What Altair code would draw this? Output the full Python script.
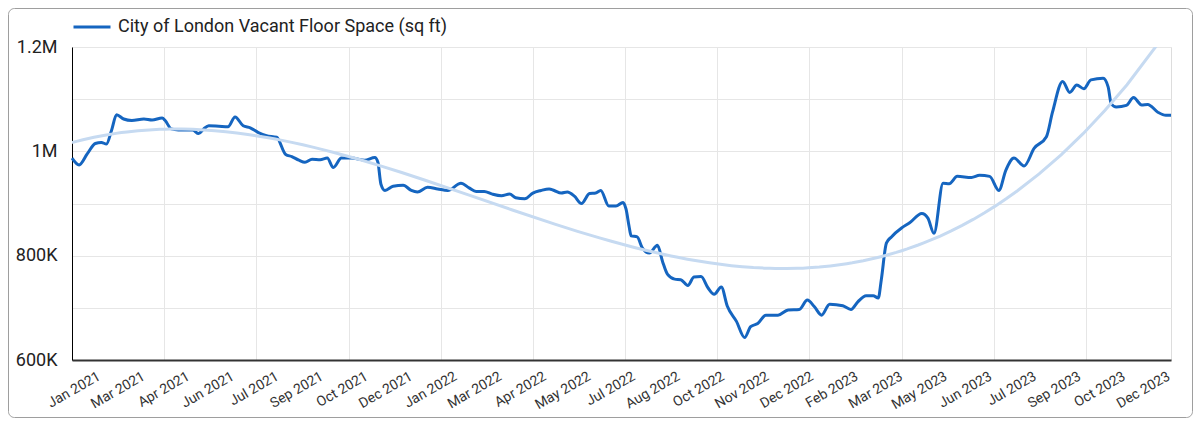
import altair as alt
import pandas as pd

SERIES = "City of London Vacant Floor Space (sq ft)"

dates = [
    "2021-01-04", "2021-01-11", "2021-01-19", "2021-01-27", "2021-02-02", "2021-02-07",
    "2021-02-12", "2021-02-17", "2021-02-24", "2021-03-04", "2021-03-16", "2021-03-24",
    "2021-04-03", "2021-04-06", "2021-04-12", "2021-04-19", "2021-05-03", "2021-05-09",
    "2021-05-14", "2021-05-19", "2021-05-29", "2021-06-07", "2021-06-14", "2021-06-22",
    "2021-06-29", "2021-07-07", "2021-07-15", "2021-07-25", "2021-08-03", "2021-08-09",
    "2021-08-16", "2021-08-22", "2021-08-29", "2021-09-06", "2021-09-13", "2021-09-19",
    "2021-09-27", "2021-10-07", "2021-10-20", "2021-10-30", "2021-11-02", "2021-11-05",
    "2021-11-09", "2021-11-17", "2021-11-27", "2021-12-05", "2021-12-11", "2021-12-21",
    "2021-12-31", "2022-01-10", "2022-01-23", "2022-01-31", "2022-02-07", "2022-02-15",
    "2022-02-23", "2022-03-04", "2022-03-12", "2022-03-18", "2022-03-27", "2022-04-04",
    "2022-04-12", "2022-04-20", "2022-04-25", "2022-05-02", "2022-05-08", "2022-05-15",
    "2022-05-22", "2022-05-30", "2022-06-05", "2022-06-10", "2022-06-18", "2022-06-25",
    "2022-07-02", "2022-07-05", "2022-07-08", "2022-07-10", "2022-07-16", "2022-07-21",
    "2022-07-28", "2022-08-05", "2022-08-10", "2022-08-15", "2022-08-22", "2022-08-28",
    "2022-09-04", "2022-09-10", "2022-09-17", "2022-09-24", "2022-09-30", "2022-10-07",
    "2022-10-13", "2022-10-22", "2022-10-30", "2022-11-05", "2022-11-12", "2022-11-20",
    "2022-12-02", "2022-12-12", "2022-12-23", "2022-12-31", "2023-01-07", "2023-01-14",
    "2023-01-22", "2023-02-04", "2023-02-12", "2023-02-19", "2023-02-27", "2023-03-06",
    "2023-03-11", "2023-03-14", "2023-03-19", "2023-03-24", "2023-04-03", "2023-04-11",
    "2023-04-23", "2023-04-29", "2023-05-05", "2023-05-14", "2023-05-20", "2023-05-28",
    "2023-06-11", "2023-06-19", "2023-06-29", "2023-07-08", "2023-07-15", "2023-07-23",
    "2023-08-02", "2023-08-12", "2023-08-24", "2023-08-30", "2023-09-09", "2023-09-16",
    "2023-09-23", "2023-09-30", "2023-10-07", "2023-10-19", "2023-10-24", "2023-10-27",
    "2023-11-01", "2023-11-11", "2023-11-18", "2023-11-26", "2023-12-02", "2023-12-12",
    "2023-12-20", "2023-12-25",
]

values = [
    987000, 974000, 995000, 1015000, 1017000, 1014000,
    1040000, 1070000, 1062000, 1059000, 1062000, 1060000,
    1064000, 1059000, 1043000, 1041000, 1041000, 1034000,
    1043000, 1049000, 1048000, 1047000, 1066000, 1049000,
    1045000, 1036000, 1030000, 1027000, 994000, 990000,
    983000, 979000, 985000, 984000, 987000, 969000,
    987000, 987000, 983000, 988000, 979000, 937000,
    925000, 933000, 935000, 925000, 922000, 931000,
    928000, 925000, 939000, 930000, 923000, 923000,
    918000, 915000, 918000, 911000, 909000, 920000,
    925000, 928000, 925000, 920000, 922000, 914000,
    900000, 919000, 920000, 925000, 895000, 895000,
    902000, 889000, 856000, 838000, 836000, 815000,
    805000, 820000, 789000, 764000, 755000, 754000,
    743000, 759000, 760000, 738000, 726000, 740000,
    703000, 674000, 643000, 664000, 670000, 686000,
    686000, 696000, 697000, 715000, 702000, 686000,
    707000, 704000, 697000, 712000, 723000, 723000,
    719000, 754000, 824000, 836000, 853000, 863000,
    881000, 872000, 843000, 939000, 938000, 952000,
    950000, 954000, 952000, 925000, 964000, 987000,
    972000, 1006000, 1028000, 1075000, 1134000, 1113000,
    1127000, 1120000, 1137000, 1140000, 1123000, 1091000,
    1085000, 1088000, 1103000, 1089000, 1090000, 1075000,
    1069000, 1069000,
]

x_labels = [
    "Jan 2021", "Mar 2021", "Apr 2021", "Jun 2021", "Jul 2021", "Sep 2021",
    "Oct 2021", "Dec 2021", "Jan 2022", "Mar 2022", "Apr 2022", "May 2022",
    "Jul 2022", "Aug 2022", "Oct 2022", "Nov 2022", "Dec 2022", "Feb 2023",
    "Mar 2023", "May 2023", "Jun 2023", "Jul 2023", "Sep 2023", "Oct 2023",
    "Dec 2023",
]

y_ticks = [600000, 700000, 800000, 900000, 1000000, 1100000, 1200000]

BLUE = "#1565c0"
TREND = "#c6daf1"
FONT = "Roboto"
DAY = 86400000
YEAR = 365 * DAY

df = pd.DataFrame({"date": dates, "value": values, "series": SERIES})

ms0 = int(pd.Timestamp(dates[0], tz="UTC").value // 10**6)
ms1 = int(pd.Timestamp(dates[-1], tz="UTC").value // 10**6)
n = len(x_labels)

# label anchors: spaced 44 days, last one just before the end of the axis
label_step = 44 * DAY
label_base = ms1 - int(2.5 * DAY) - (n - 1) * label_step
label_vals = [label_base + k * label_step for k in range(n)]
# vertical grid lines every 13 weeks from the first week
grid_vals = [ms0 + j * 91 * DAY for j in range(1, 12) if ms0 + j * 91 * DAY < ms1]

idx = f"round((datum.value - {label_base}) / {label_step})"
label_arr = "[" + ",".join(f"'{l}'" for l in x_labels) + "]"
x_label_expr = f"{label_arr}[{idx}]"

y_label_expr = (
    "datum.value % 200000 == 0 ? (datum.value >= 1000000 ? "
    "format(datum.value / 1000000, '~g') + 'M' : format(datum.value / 1000, '~g') + 'K') : ''"
)

x_scale = alt.Scale(domain=[ms0, ms1])

x_main = alt.X(
    "date:T",
    title=None,
    scale=x_scale,
    axis=alt.Axis(
        orient="bottom",
        values=label_vals,
        labelExpr=x_label_expr,
        labelAngle=-30,
        labelAlign="right",
        labelBaseline="middle",
        labelFontSize=14,
        labelFont=FONT,
        labelColor="#333333",
        labelPadding=15,
        labelFlush=False,
        labelOverlap=False,
        ticks=False,
        grid=False,
        domainColor="#333333",
        domainWidth=2,
    ),
)

y_enc = alt.Y(
    "value:Q",
    title=None,
    scale=alt.Scale(domain=[600000, 1200000], nice=False, zero=False),
    axis=alt.Axis(
        values=y_ticks,
        labelExpr=y_label_expr,
        labelFontSize=18,
        labelFont=FONT,
        labelColor="#222222",
        labelPadding=15,
        ticks=False,
        domainColor="#000000",
        domainWidth=1,
        gridColor="#e6e6e6",
        gridWidth=1,
        minExtent=64,
    ),
)

border = alt.Chart(pd.DataFrame({"b": [0]})).mark_rect(
    fillOpacity=0,
    stroke="#9e9e9e",
    strokeWidth=1,
    cornerRadius=6,
    xOffset=-63.5,
    x2Offset=21.5,
    yOffset=-38.5,
    y2Offset=57.5,
).encode(
    x=alt.value(0),
    x2=alt.value("width"),
    y=alt.value(0),
    y2=alt.value("height"),
)

main = alt.Chart(df).mark_line(
    strokeWidth=3, interpolate="monotone"
).encode(
    x=x_main,
    y=y_enc,
    color=alt.Color(
        "series:N",
        scale=alt.Scale(range=[BLUE]),
        legend=alt.Legend(
            title=None,
            orient="none",
            legendX=0,
            legendY=-40,
            symbolType="stroke",
            symbolSize=1369,
            symbolStrokeWidth=3,
            labelFontSize=18,
            labelFont=FONT,
            labelColor="#222222",
            labelOffset=6,
            labelLimit=600,
            padding=0,
        ),
    ),
)

trend = alt.Chart(df).transform_calculate(
    t=f"(time(datum.date) - {ms0}) / {YEAR}"
).transform_regression(
    "t", "value", method="poly", order=3
).transform_calculate(
    tdate=f"datum.t * {YEAR} + {ms0}"
).mark_line(
    strokeWidth=3, color=TREND, clip=True
).encode(
    x=alt.X(
        "tdate:T",
        title=None,
        scale=x_scale,
        axis=alt.Axis(
            orient="top",
            values=grid_vals,
            labels=False,
            ticks=False,
            domain=False,
            grid=True,
            gridColor="#e6e6e6",
            gridWidth=1,
        ),
    ),
    y=alt.Y("value:Q"),
)

chart = alt.layer(border, main, trend).resolve_axis(x="independent").properties(
    width=1185,
    height=410,
    padding=0,
    autosize=alt.AutoSizeParams(type="fit", contains="padding"),
).configure_view(stroke=None).configure(background="white")

chart.save("out.html", embed_options={"renderer": "svg", "actions": False})
